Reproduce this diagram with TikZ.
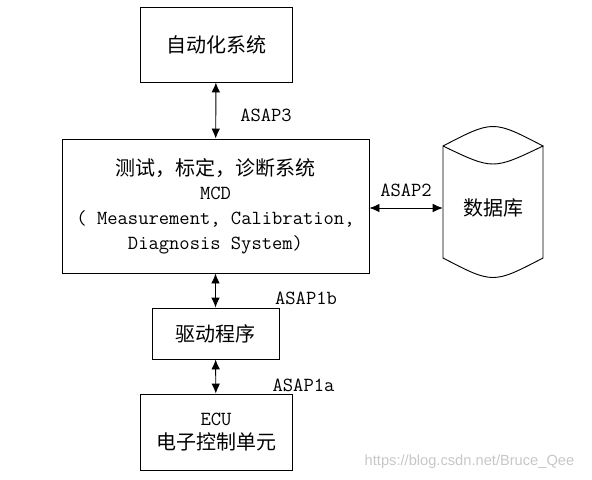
\documentclass[tikz,border=0pt]{standalone}
\usepackage{fontspec}
\newfontfamily\cjk{Noto Sans CJK SC}
\newfontfamily\markfont{Liberation Sans}
\usepackage{tikz}
\usetikzlibrary{arrows.meta}

\tikzset{
	box/.style={draw, line width=0.7pt, inner sep=0pt, align=center, font=\fontsize{15pt}{18.5pt}\selectfont},
	link/.style={{Latex[length=7.5pt,width=6.5pt]}-{Latex[length=7.5pt,width=6.5pt]}, line width=0.7pt},
	asap/.style={font=\fontsize{15pt}{18pt}\selectfont\ttfamily},
}

\begin{document}
\begin{tikzpicture}[x=0.75pt,y=-0.75pt]
\useasboundingbox (0,0) rectangle (592,479);
%\draw[help lines] (0,0) grid (592,479);
\node[box, minimum width=114pt, minimum height=56.25pt] (auto) at (216,44.5) {\cjk 自动化系统};
\node[box, minimum width=230.25pt, minimum height=100.5pt] (mcd) at (215.5,206)
	{\cjk 测试，标定，诊断系统\\ \ttfamily MCD\\ \ttfamily ( Measurement, Calibration,\\ \ttfamily Diagnosis System)};
\node[box, minimum width=95.25pt, minimum height=38.25pt] (drv) at (215.5,333.5) {\cjk 驱动程序};
\node[box, minimum width=114pt, minimum height=57pt] (ecu) at (216,432)
	{\ttfamily ECU\\ \cjk 电子控制单元};

% database
\draw[line width=0.7pt] (443,146) .. controls (493,120) .. (543,146) .. controls (493,170) .. (443,146) -- (443,258)
	.. controls (493,284) .. (543,258) -- (543,146);
\node[inner sep=0pt, minimum width=75pt, minimum height=60pt, font=\fontsize{15pt}{18pt}\selectfont\cjk] (db) at (493,208) {数据库};

\draw[link] (auto) -- (mcd);
\draw[link] (mcd.east |- db) -- (db.west);
\draw[link] (mcd) -- (drv);
\draw[link] (drv) -- (ecu);

\node[asap] (a3) at (266,115) {ASAP3};
\node[asap] (a2) at (406,190) {ASAP2};
\node[asap] (a1b) at (306,298) {ASAP1b};
\node[asap] (a1a) at (303.5,385) {ASAP1a};

\node[text=black!22, font=\markfont\fontsize{11pt}{13pt}\selectfont] (mark) at (469.5,462) {https://blog.csdn.net/Bruce\_Qee};
\end{tikzpicture}
\end{document}
